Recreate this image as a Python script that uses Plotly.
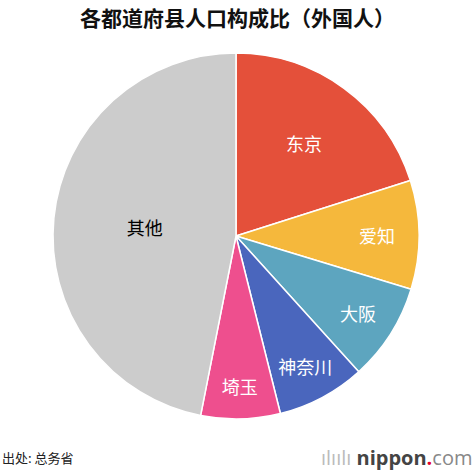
import plotly.graph_objects as go

# share of foreign residents by prefecture (%)
labels = ["东京", "爱知", "大阪", "神奈川", "埼玉", "其他"]
shares = [20.1, 9.6, 8.6, 7.8, 7.0, 46.9]
colors = ["#E4503A", "#F5B83C", "#5DA5BF", "#4A66BD", "#EE4F8E", "#CCCCCC"]
text_colors = ["white", "white", "white", "white", "white", "black"]

FONT = "Noto Sans CJK SC"

fig = go.Figure(go.Pie(
    labels=labels,
    values=shares,
    sort=False,
    direction="clockwise",
    rotation=0,
    marker=dict(colors=colors, line=dict(color="white", width=1.5)),
    textinfo="label",
    textposition="inside",
    insidetextorientation="horizontal",
    textfont=dict(family=FONT, size=18, color=text_colors),
    hoverinfo="label+percent",
    domain=dict(x=[53 / 474, 419 / 474], y=[55 / 474, 421 / 474]),
    showlegend=False,
))

fig.add_annotation(
    text="<b>各都道府县人口构成比（外国人）</b>",
    x=0.5, y=1 - 17 / 474, xref="paper", yref="paper",
    xanchor="center", yanchor="middle", showarrow=False,
    font=dict(family=FONT, size=21, color="#111111"),
)
fig.add_annotation(
    text="出处: 总务省",
    x=0.0, y=1 - 457 / 474, xref="paper", yref="paper",
    xanchor="left", yanchor="middle", showarrow=False,
    font=dict(family=FONT, size=13, color="#222222"),
)
fig.add_annotation(
    text="<span style='color:#bbbbbb'>ılıılı</span> <b>nippon</b><span style='color:#E4002B'><b>.</b></span><span style='color:#888888'>com</span>",
    x=1.0, y=1 - 457 / 474, xref="paper", yref="paper",
    xanchor="right", yanchor="middle", showarrow=False,
    font=dict(family="Open Sans", size=20, color="#444444"),
)

fig.update_layout(
    width=474, height=474,
    margin=dict(l=0, r=0, t=0, b=0),
    paper_bgcolor="white",
    plot_bgcolor="white",
    font=dict(family=FONT),
)

# drop the page's default body margin so the figure sits at the window's corner
fig.write_html(
    "out.html",
    config={"displayModeBar": False},
    post_script="document.body.style.margin='0';",
)
